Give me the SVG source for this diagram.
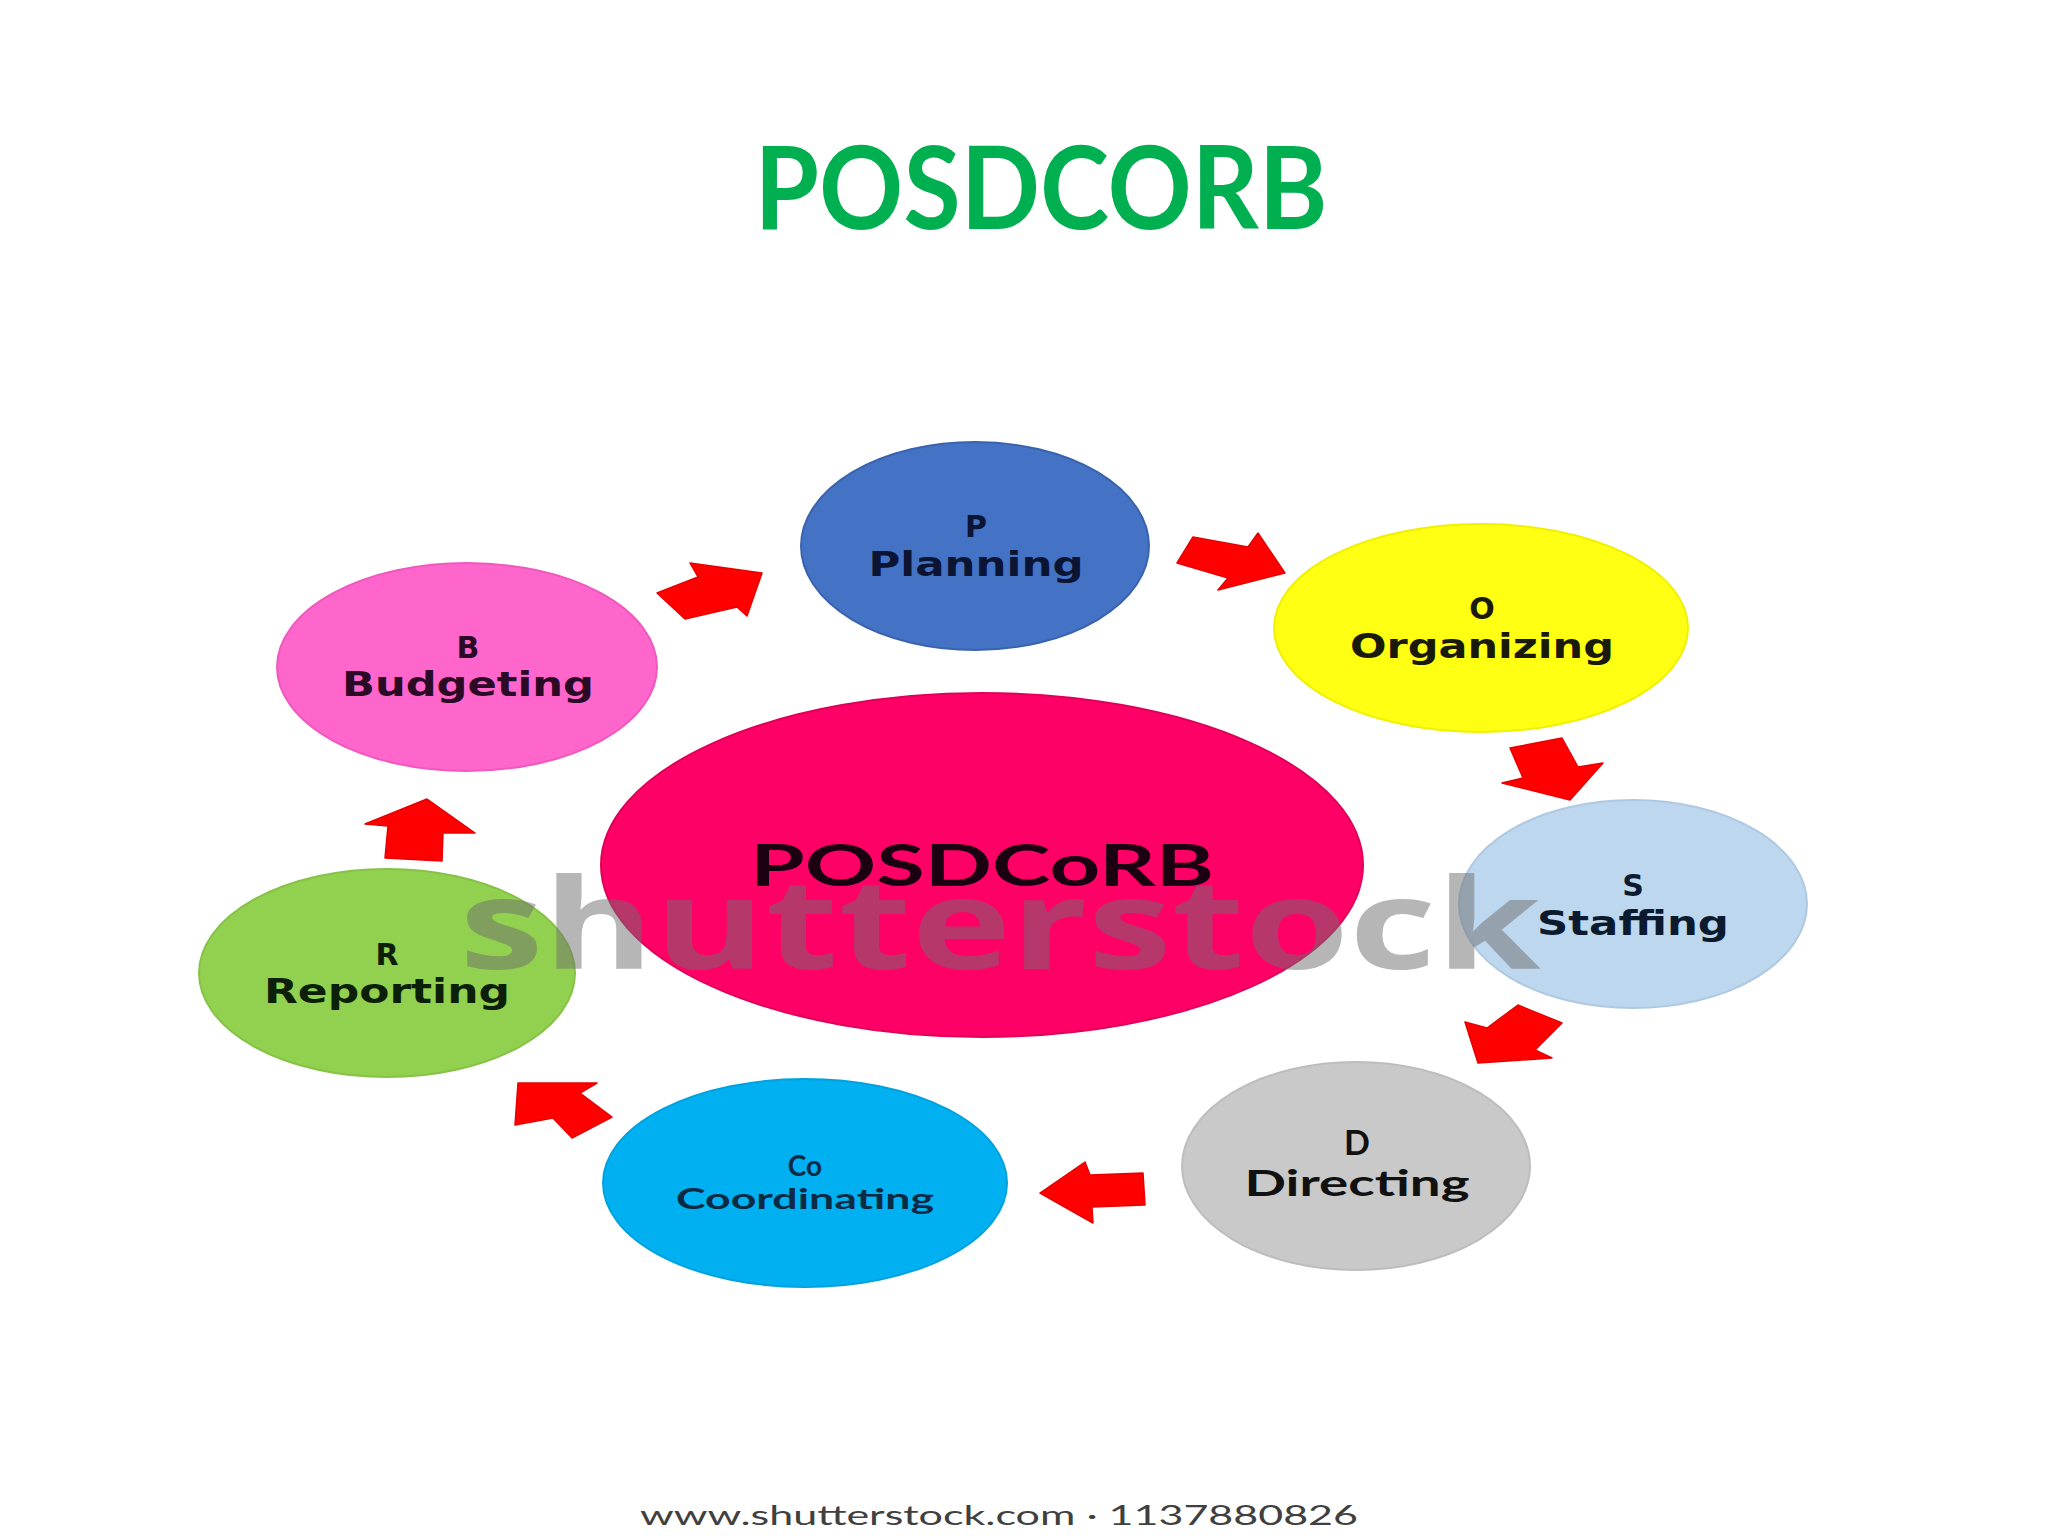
<svg xmlns="http://www.w3.org/2000/svg" width="2048" height="1536" viewBox="0 0 2048 1536">
<style>
.title{font-family:Lato,"Liberation Sans",sans-serif;font-weight:700;fill:#00B050}
.lbl{font-family:"DejaVu Sans","Liberation Sans",sans-serif;font-weight:700;text-anchor:middle}
.lblc{font-family:Lato,"Liberation Sans",sans-serif;font-weight:700;text-anchor:middle}
.arr{fill:#FF0000;stroke:#E80000;stroke-width:1.5;stroke-linejoin:round}
.wm{font-family:"Open Sans","Liberation Sans",sans-serif;font-weight:700;fill:#6e6e6e;fill-opacity:0.5}
.foot{font-family:Lato,"Liberation Sans",sans-serif;fill:#404040}
</style>
<rect width="2048" height="1536" fill="#ffffff"/>
<text class="title" x="1041" y="229" font-size="114" text-anchor="middle" textLength="573" lengthAdjust="spacingAndGlyphs">POSDCORB</text>

<g id="center">
<ellipse cx="982" cy="865" rx="381" ry="172" fill="#FF0066" stroke="#E0005A" stroke-width="2"/>
<text class="lblc" x="982" y="886" font-size="58" fill="#1a0010" textLength="464" lengthAdjust="spacingAndGlyphs">POSDCoRB</text>
</g>

<g id="planning">
<ellipse cx="975" cy="546" rx="174" ry="104" fill="#4472C4" stroke="#3A63AE" stroke-width="2"/>
<text class="lbl" x="976" y="537" font-size="30" fill="#0b1433">P</text>
<text class="lbl" x="976" y="576" font-size="34" fill="#0b1433" textLength="215" lengthAdjust="spacingAndGlyphs">Planning</text>
</g>

<g id="organizing">
<ellipse cx="1481" cy="628" rx="207" ry="104" fill="#FFFF14" stroke="#F0F000" stroke-width="2"/>
<text class="lbl" x="1482" y="619" font-size="30" fill="#1a1a0a">O</text>
<text class="lbl" x="1482" y="658" font-size="34" fill="#1a1a0a" textLength="264" lengthAdjust="spacingAndGlyphs">Organizing</text>
</g>

<g id="staffing">
<ellipse cx="1633" cy="904" rx="174" ry="104" fill="#BDD7EE" stroke="#AFC9E2" stroke-width="2"/>
<text class="lbl" x="1633" y="896" font-size="30" fill="#0c1a2e">S</text>
<text class="lbl" x="1633" y="935" font-size="34" fill="#0c1a2e" textLength="192" lengthAdjust="spacingAndGlyphs">Staffing</text>
</g>

<g id="directing">
<ellipse cx="1356" cy="1166" rx="174" ry="104" fill="#C9C9C9" stroke="#BDBDBD" stroke-width="2"/>
<text class="lblc" x="1357" y="1155" font-size="34" fill="#111111">D</text>
<text class="lblc" x="1357" y="1196" font-size="37" fill="#111111" textLength="225" lengthAdjust="spacingAndGlyphs">Directing</text>
</g>

<g id="coordinating">
<ellipse cx="805" cy="1183" rx="202" ry="104" fill="#00B0F0" stroke="#00A2DE" stroke-width="2"/>
<text class="lblc" x="805" y="1176" font-size="28" fill="#0b2a44">Co</text>
<text class="lblc" x="805" y="1209" font-size="29" fill="#0b2a44" textLength="258" lengthAdjust="spacingAndGlyphs">Coordinating</text>
</g>

<g id="reporting">
<ellipse cx="387" cy="973" rx="188" ry="104" fill="#92D050" stroke="#86C246" stroke-width="2"/>
<text class="lbl" x="387" y="965" font-size="30" fill="#0c1f08">R</text>
<text class="lbl" x="387" y="1003" font-size="34" fill="#0c1f08" textLength="246" lengthAdjust="spacingAndGlyphs">Reporting</text>
</g>

<g id="budgeting">
<ellipse cx="467" cy="667" rx="190" ry="104" fill="#FF66CC" stroke="#F058BE" stroke-width="2"/>
<text class="lbl" x="468" y="658" font-size="30" fill="#2a0a24">B</text>
<text class="lbl" x="468" y="696" font-size="34" fill="#2a0a24" textLength="252" lengthAdjust="spacingAndGlyphs">Budgeting</text>
</g>

<g id="connectors">
<polygon class="arr" points="657,593 698,577 690,563 762,573 747,616 737,607 685,619"/>
<polygon class="arr" points="1193,537 1248,547 1258,533 1285,573 1218,590 1228,578 1177,563"/>
<polygon class="arr" points="1510,748 1562,738 1578,767 1603,763 1570,800 1502,783 1523,778"/>
<polygon class="arr" points="1518,1005 1562,1023 1535,1050 1552,1058 1478,1063 1465,1022 1487,1028"/>
<polygon class="arr" points="1143,1173 1145,1205 1092,1207 1093,1223 1040,1193 1085,1162 1090,1175"/>
<polygon class="arr" points="518,1083 597,1083 580,1093 612,1117 572,1138 553,1118 515,1125"/>
<polygon class="arr" points="427,799 475,833 443,833 442,861 385,858 388,826 365,824"/>
</g>

<text class="wm" x="1000" y="969" font-size="125" text-anchor="middle" textLength="1081" lengthAdjust="spacingAndGlyphs">shutterstock</text>
<text class="foot" x="999" y="1525" font-size="27" text-anchor="middle" textLength="718" lengthAdjust="spacingAndGlyphs">www.shutterstock.com · 1137880826</text>
</svg>
